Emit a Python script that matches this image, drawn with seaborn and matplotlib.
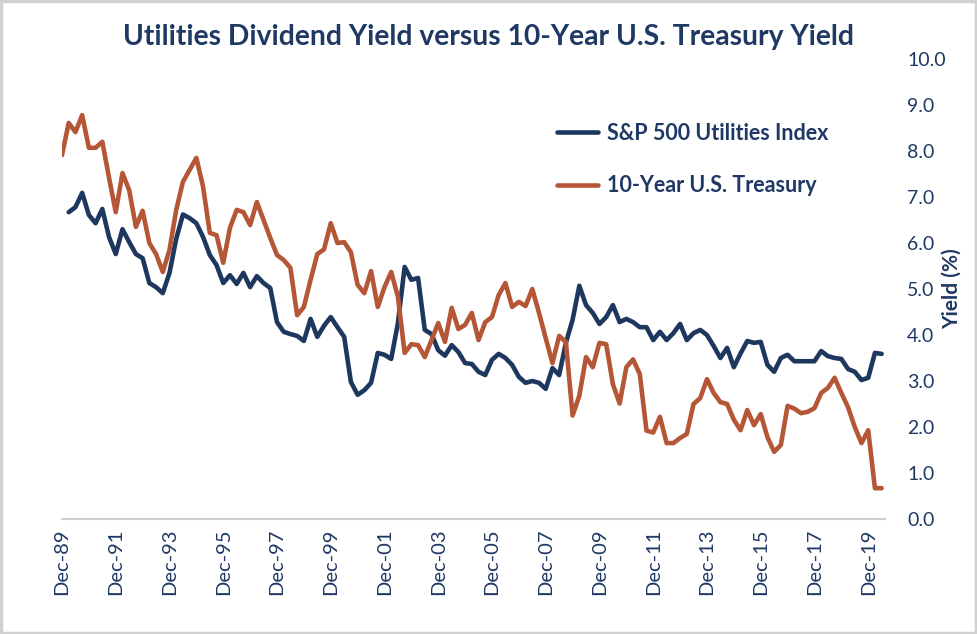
import numpy as np
import pandas as pd
import matplotlib
matplotlib.use("Agg")
import matplotlib.pyplot as plt
import matplotlib.patches as mpatches
import seaborn as sns

# ---- data (quarterly, Dec-89 .. Jun-20) ----
treasury = [7.91, 8.61, 8.41, 8.78, 8.07, 8.07, 8.20, 7.42, 6.67, 7.52,
            7.15, 6.35, 6.70, 6.00, 5.76, 5.37, 5.85, 6.72, 7.33, 7.59,
            7.85, 7.22, 6.22, 6.17, 5.57, 6.33, 6.72, 6.67, 6.39, 6.89,
            6.50, 6.11, 5.74, 5.63, 5.46, 4.43, 4.61, 5.20, 5.76, 5.86,
            6.43, 6.00, 6.02, 5.80, 5.09, 4.91, 5.39, 4.61, 5.04, 5.37,
            4.83, 3.61, 3.80, 3.78, 3.52, 3.89, 4.26, 3.85, 4.59, 4.13,
            4.22, 4.48, 3.89, 4.28, 4.39, 4.87, 5.13, 4.61, 4.72, 4.63,
            5.00, 4.48, 3.93, 3.39, 3.98, 3.85, 2.25, 2.68, 3.52, 3.30,
            3.83, 3.80, 2.93, 2.51, 3.30, 3.47, 3.15, 1.92, 1.88, 2.22,
            1.65, 1.65, 1.76, 1.85, 2.50, 2.63, 3.04, 2.74, 2.54, 2.50,
            2.16, 1.93, 2.37, 2.04, 2.28, 1.78, 1.46, 1.61, 2.46, 2.40,
            2.30, 2.33, 2.41, 2.74, 2.85, 3.07, 2.74, 2.43, 2.00, 1.65,
            1.93, 0.67, 0.67]

utilities = [np.nan, 6.67, 6.78, 7.09, 6.61, 6.43, 6.74, 6.13, 5.76, 6.30,
             6.02, 5.76, 5.67, 5.13, 5.04, 4.91, 5.35, 6.09, 6.62, 6.54,
             6.43, 6.13, 5.74, 5.52, 5.13, 5.30, 5.11, 5.35, 5.04, 5.28,
             5.13, 5.02, 4.28, 4.07, 4.02, 3.98, 3.87, 4.35, 3.96, 4.20,
             4.39, 4.17, 3.96, 2.98, 2.70, 2.80, 2.96, 3.61, 3.57, 3.48,
             4.26, 5.48, 5.20, 5.24, 4.11, 4.02, 3.67, 3.55, 3.78, 3.63,
             3.39, 3.37, 3.20, 3.13, 3.46, 3.59, 3.50, 3.35, 3.09, 2.96,
             3.00, 2.96, 2.83, 3.28, 3.13, 3.83, 4.33, 5.07, 4.65, 4.48,
             4.24, 4.39, 4.65, 4.28, 4.35, 4.28, 4.17, 4.17, 3.89, 4.07,
             3.89, 4.04, 4.24, 3.89, 4.04, 4.11, 4.00, 3.76, 3.50, 3.72,
             3.30, 3.60, 3.87, 3.83, 3.85, 3.35, 3.20, 3.50, 3.57, 3.43,
             3.43, 3.43, 3.43, 3.65, 3.54, 3.50, 3.48, 3.26, 3.20, 3.02,
             3.07, 3.61, 3.59]

tick_labels = ["Dec-89", "Dec-91", "Dec-93", "Dec-95", "Dec-97", "Dec-99",
               "Dec-01", "Dec-03", "Dec-05", "Dec-07", "Dec-09", "Dec-11",
               "Dec-13", "Dec-15", "Dec-17", "Dec-19"]
series_names = ["S&P 500 Utilities Index", "10-Year U.S. Treasury"]

NAVY = "#1f3864"
BLUE = "#1e375f"
ORANGE = "#b55737"

n = len(treasury)
quarter = np.arange(n)
df = pd.DataFrame({
    "quarter": np.concatenate([quarter, quarter]),
    "yield": np.concatenate([utilities, treasury]),
    "series": [series_names[0]] * n + [series_names[1]] * n,
})

sns.set_style("white")
plt.rcParams["font.family"] = ["Lato", "DejaVu Sans"]

fig = plt.figure(figsize=(9.77, 6.34), dpi=100)
ax = fig.add_axes([62 / 977, 1 - 519 / 634, (885 - 62) / 977, (519 - 59) / 634])

sns.lineplot(data=df, x="quarter", y="yield", hue="series",
             palette={series_names[0]: BLUE, series_names[1]: ORANGE},
             linewidth=3.3, ax=ax, legend=False, sort=False)

ax.set_xlim(0, 122.5)
ax.set_ylim(0, 10)

# y axis on right
ax.yaxis.tick_right()
ax.yaxis.set_label_position("right")
ax.set_yticks(np.arange(0, 10.01, 1.0))
ax.set_yticklabels([f"{v:.1f}" for v in np.arange(0, 10.01, 1.0)],
                   fontsize=14, color=NAVY)
ax.tick_params(axis="y", length=0, pad=16)
ax.set_ylabel("Yield (%)", fontsize=15, fontweight="bold", color=NAVY,
              labelpad=-3)

ax.set_xticks(np.arange(0, 121, 8))
ax.set_xticklabels(tick_labels, rotation=90, fontsize=14.5, color=NAVY)
ax.tick_params(axis="x", length=5, color="#cfcfcf", width=1.2, pad=2)
ax.set_xlabel("")

for s in ["top", "left", "right"]:
    ax.spines[s].set_visible(False)
ax.spines["bottom"].set_color("#cfcfcf")
ax.spines["bottom"].set_linewidth(1.5)

# legend
handles = [plt.Line2D([], [], color=BLUE, lw=3.3),
           plt.Line2D([], [], color=ORANGE, lw=3.3)]
leg = ax.legend(handles, series_names, loc="upper left",
                bbox_to_anchor=(0.601, 0.861), frameon=False, borderpad=0,
                borderaxespad=0,
                prop={"weight": "bold", "size": 15.5}, handlelength=1.9,
                labelspacing=1.45, handletextpad=0.45)
for t in leg.get_texts():
    t.set_color(NAVY)

fig.text(489 / 977, 1 - 37 / 634, "Utilities Dividend Yield versus 10-Year U.S. Treasury Yield",
         ha="center", va="center", fontsize=20.3, fontweight="bold", color=NAVY)

# border around figure
fig.patches.append(mpatches.Rectangle((0.0015, 0.002), 0.997, 0.996,
                                      transform=fig.transFigure, fill=False,
                                      edgecolor="#d0d0d0", linewidth=2.5))

fig.savefig("out.png", dpi=100)
